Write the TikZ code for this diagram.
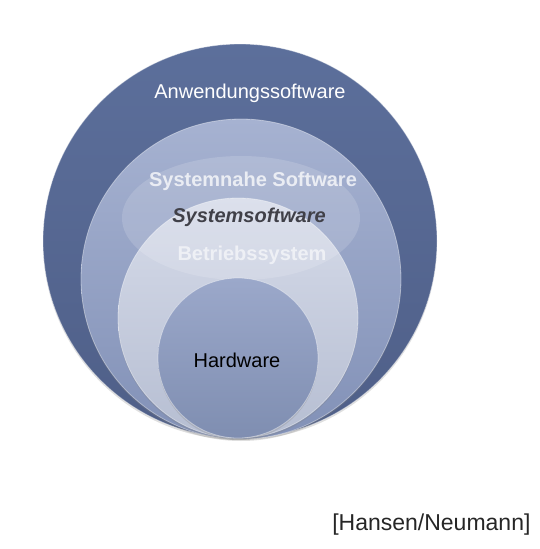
\documentclass[tikz,border=0pt]{standalone}
\usepackage{fontspec}
\setmainfont{Liberation Sans}
\usetikzlibrary{shadows}
\definecolor{anwTop}{HTML}{5C6F9B}
\definecolor{anwBottom}{HTML}{4F5F88}
\definecolor{sysTop}{HTML}{A6B2D1}
\definecolor{sysBottom}{HTML}{8291B7}
\definecolor{osTop}{HTML}{D6DBE9}
\definecolor{osBottom}{HTML}{B6BED2}
\definecolor{hwTop}{HTML}{9BA8CA}
\definecolor{hwBottom}{HTML}{7F8EB1}
\definecolor{darkText}{HTML}{404048}
\begin{document}
\begin{tikzpicture}
[x=1pt,y=-1pt,
  layerCircle/.style={circle,inner sep=0pt,line width=0.8pt,draw=white,draw opacity=0.4,
    drop shadow={shadow xshift=0pt,shadow yshift=-2pt,opacity=0.25}},%
  plainText/.style={font=\fontsize{20}{24}\selectfont},
  boldText/.style={font=\fontsize{20}{24}\selectfont\bfseries}]
\useasboundingbox (0,0) rectangle (540,549);
% layers, outside in
\node[layerCircle,minimum size=394pt,top color=anwTop,bottom color=anwBottom] (anw) at (240,241) {};
\node[layerCircle,minimum size=320pt,top color=sysTop,bottom color=sysBottom] (sys) at (241,279) {};
\node[layerCircle,minimum size=240pt,top color=osTop,bottom color=osBottom] (os) at (238,318) {};
\fill[white,fill opacity=0.15] (241,218) ellipse [x radius=119,y radius=62];
\node[layerCircle,minimum size=160pt,top color=hwTop,bottom color=hwBottom] (hw) at (238,358) {};
% labels
\node[plainText,text=white] (anwLabel) at (250,93) {Anwendungssoftware};
\node[boldText,text=white,text opacity=0.75] (sysLabel) at (253,181) {Systemnahe Software};
\node[boldText,text=darkText] (swLabel) at (249,217) {\itshape Systemsoftware};
\node[boldText,text=white,text opacity=0.6] (osLabel) at (252,255) {Betriebssystem};
\node[plainText,text=black] (hwLabel) at (237,360) {Hardware};
\node[anchor=east,font=\fontsize{23}{27}\selectfont,text=black!85] (source) at (534,525) {[Hansen/Neumann]};
\end{tikzpicture}
\end{document}
